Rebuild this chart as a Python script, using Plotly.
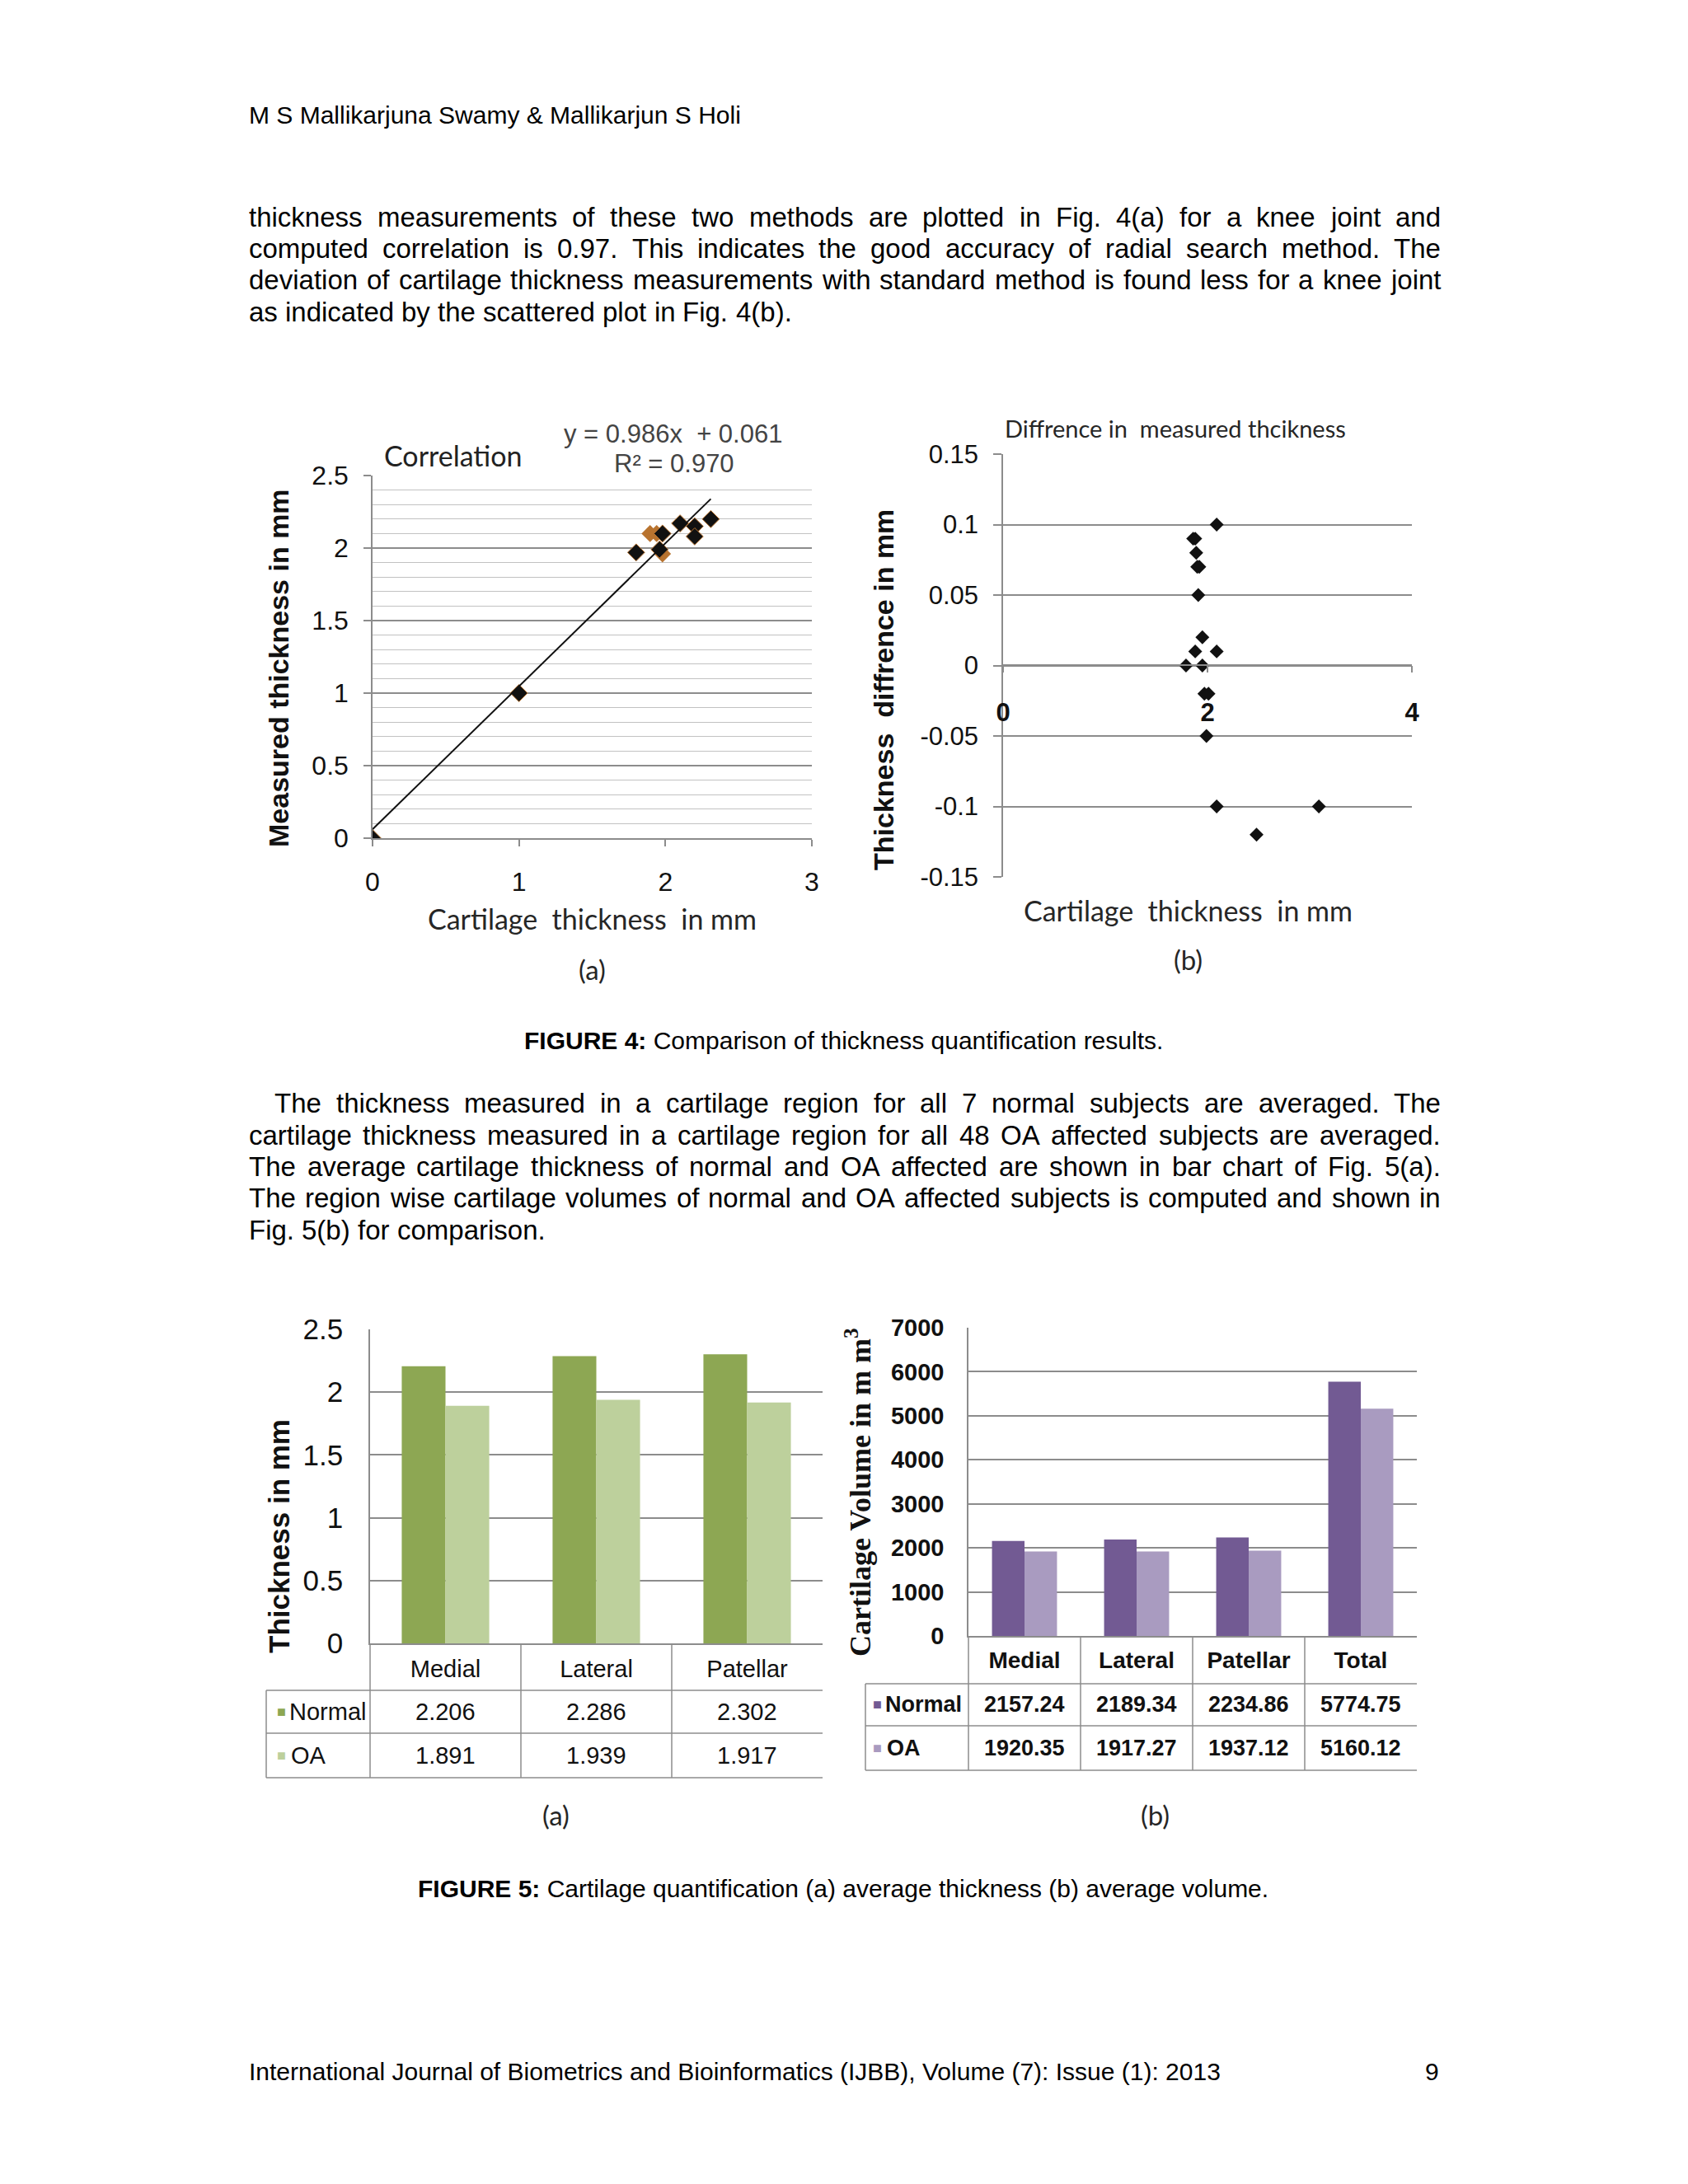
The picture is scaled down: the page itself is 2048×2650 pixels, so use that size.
import plotly.graph_objects as go

W, H = 2048, 2650

# ---------------- data ----------------
# Fig 4(a): correlation between standard and radial search thickness (mm)
corr_std_black = [0, 1.0, 1.80, 1.98, 1.96, 2.10, 2.20, 2.20, 2.31]
corr_meas_black = [0, 1.0, 1.97, 2.10, 1.99, 2.17, 2.15, 2.08, 2.20]
corr_std_orange = [1.895, 1.94, 1.98]
corr_meas_orange = [2.10, 2.10, 1.96]
fit_slope = 0.986
fit_intercept = 0.061
fit_r2 = 0.970

# Fig 4(b): difference in measured thickness
diff_x = [2.09, 1.86, 1.88, 1.89, 1.90, 1.92, 1.91, 1.95, 1.88, 2.09, 1.79, 1.95, 1.97, 2.01, 1.99, 2.09, 2.48, 3.09]
diff_y = [0.10, 0.09, 0.09, 0.08, 0.07, 0.07, 0.05, 0.02, 0.01, 0.01, 0.00, 0.00, -0.02, -0.02, -0.05, -0.10, -0.12, -0.10]
diff_yticks = [0.15, 0.1, 0.05, 0, -0.05, -0.1, -0.15]
diff_yticklabels = ["0.15", "0.1", "0.05", "0", "-0.05", "-0.1", "-0.15"]

# Fig 5(a): average thickness (mm)
regions_a = ["Medial", "Lateral", "Patellar"]
thick_normal = [2.206, 2.286, 2.302]
thick_oa = [1.891, 1.939, 1.917]

# Fig 5(b): average volume (mm^3)
regions_b = ["Medial", "Lateral", "Patellar", "Total"]
vol_normal = [2157.24, 2189.34, 2234.86, 5774.75]
vol_oa = [1920.35, 1917.27, 1937.12, 5160.12]

# ---------------- helpers ----------------
def px(x):
    return x / W

def py(y):
    return 1 - y / H

AW = {' ': 278, '!': 278, '"': 355, '#': 556, '$': 556, '%': 889, '&': 667, "'": 191,
      '(': 333, ')': 333, '*': 389, '+': 584, ',': 278, '-': 333, '.': 278, '/': 278,
      ':': 278, ';': 278, '=': 584, '?': 556}
for c in '0123456789':
    AW[c] = 556
AW.update(dict(zip('ABCDEFGHIJKLMNOPQRSTUVWXYZ',
                   [667, 667, 722, 722, 667, 611, 778, 722, 278, 500, 667, 556, 833, 722, 778,
                    667, 778, 722, 667, 611, 722, 667, 944, 667, 667, 611])))
AW.update(dict(zip('abcdefghijklmnopqrstuvwxyz',
                   [556, 556, 500, 556, 556, 278, 556, 556, 222, 222, 500, 222, 833, 556, 556,
                    556, 556, 333, 500, 278, 556, 500, 722, 500, 500, 500])))

annotations = []
shapes = []
BODY = "Liberation Sans"
NARROW = "Liberation Sans Narrow, Liberation Sans"
CAL = "Lato"


def text_line(text, y, x0, x1, size, justify):
    words = text.split(' ')
    widths = [sum(AW.get(c, 556) for c in w) * size / 1000 for w in words]
    if justify and len(words) > 1:
        gap = (x1 - x0 - sum(widths)) / (len(words) - 1)
    else:
        gap = 278 * size / 1000
    x = x0
    for w, wd in zip(words, widths):
        annotations.append(dict(text=w, x=px(x), y=py(y), xref='paper', yref='paper',
                                xanchor='left', yanchor='middle', showarrow=False,
                                borderpad=0,
                                font=dict(family=BODY, size=size, color='#000000')))
        x += wd + gap


def note(text, x, y, size, family=BODY, color='#000000', xanchor='center', angle=0,
         weight='normal', xref='paper'):
    annotations.append(dict(text=text, x=(px(x) if xref == 'paper' else x), y=py(y),
                            xref=xref, yref='paper', xanchor=xanchor, yanchor='middle',
                            showarrow=False, textangle=angle, borderpad=0,
                            font=dict(family=family, size=size, color=color, weight=weight)))


def hline(x0, x1, y, color='#8c8c8c', width=1.5, xref='paper'):
    shapes.append(dict(type='line', xref=xref, yref='paper',
                       x0=(px(x0) if xref == 'paper' else x0),
                       x1=(px(x1) if xref == 'paper' else x1),
                       y0=py(y), y1=py(y), line=dict(color=color, width=width)))


def vline(x, y0, y1, color='#8c8c8c', width=1.5, xref='paper'):
    shapes.append(dict(type='line', xref=xref, yref='paper',
                       x0=(px(x) if xref == 'paper' else x),
                       x1=(px(x) if xref == 'paper' else x),
                       y0=py(y0), y1=py(y1), line=dict(color=color, width=width)))


# ---------------- page text ----------------
LEFT, RIGHT = 301, 1747
FS = 33
note("M S Mallikarjuna Swamy &amp; Mallikarjun S Holi", LEFT, 140, 30, xanchor='left')

para1 = ["thickness measurements of these two methods are plotted in Fig. 4(a) for a knee joint and",
         "computed correlation is 0.97. This indicates the good accuracy of radial search method. The",
         "deviation of cartilage thickness measurements with standard method is found less for a knee joint",
         "as indicated by the scattered plot in Fig. 4(b)."]
for i, (line, yy) in enumerate(zip(para1, [263, 302, 340, 378])):
    text_line(line, yy, LEFT, RIGHT, FS, i < len(para1) - 1)

note("<b>FIGURE 4:</b> Comparison of thickness quantification results.", 1023, 1262, 30)

para2 = ["The thickness measured in a cartilage region for all 7 normal subjects are averaged. The",
         "cartilage thickness measured in a cartilage region for all 48 OA affected subjects are averaged.",
         "The average cartilage thickness of normal and OA affected are shown in bar chart of Fig. 5(a).",
         "The region wise cartilage volumes of normal and OA affected subjects is computed and shown in",
         "Fig. 5(b) for comparison."]
for i, (line, yy) in enumerate(zip(para2, [1338, 1377, 1415, 1453, 1492])):
    text_line(line, yy, 332 if i == 0 else LEFT, RIGHT, FS, i < len(para2) - 1)

note("<b>FIGURE 5:</b> Cartilage quantification (a) average thickness (b) average volume.", 1023, 2291, 30)
note("International Journal of Biometrics and Bioinformatics (IJBB), Volume (7): Issue (1): 2013",
     LEFT, 2513, 30, xanchor='left')
note("9", RIGHT, 2513, 30, xanchor='right')

# ---------------- figure ----------------
fig = go.Figure()
GRID = '#8c8c8c'
TICKC = '#111111'

# Fig 4(a)
fig.add_trace(go.Scatter(x=corr_std_orange, y=corr_meas_orange, mode='markers',
                         marker=dict(symbol='diamond', size=16, color='#b8732f'),
                         xaxis='x', yaxis='y', hoverinfo='skip'))
fig.add_trace(go.Scatter(x=corr_std_black, y=corr_meas_black, mode='markers',
                         marker=dict(symbol='diamond', size=16, color='#111111',
                                     line=dict(color='#b8732f', width=1)),
                         xaxis='x', yaxis='y'))
all_x = corr_std_black + corr_std_orange
fit_x = [min(all_x), max(all_x)]
fit_y = [fit_slope * v + fit_intercept for v in fit_x]
fig.add_trace(go.Scatter(x=fit_x, y=fit_y, mode='lines', line=dict(color='#111111', width=2),
                         xaxis='x', yaxis='y'))

# Fig 4(b)
fig.add_trace(go.Scatter(x=diff_x, y=diff_y, mode='markers',
                         marker=dict(symbol='diamond', size=13, color='#111111'),
                         xaxis='x2', yaxis='y2'))

# Fig 5(a)
fig.add_trace(go.Bar(x=regions_a, y=thick_normal, name='Normal', marker=dict(color='#8da753', line=dict(width=0)),
                     xaxis='x3', yaxis='y3'))
fig.add_trace(go.Bar(x=regions_a, y=thick_oa, name='OA', marker=dict(color='#bdd09c', line=dict(width=0)),
                     xaxis='x3', yaxis='y3'))

# Fig 5(b)
fig.add_trace(go.Bar(x=regions_b, y=vol_normal, name='Normal', marker=dict(color='#725a93', line=dict(width=0)),
                     xaxis='x4', yaxis='y4'))
fig.add_trace(go.Bar(x=regions_b, y=vol_oa, name='OA', marker=dict(color='#a99bc0', line=dict(width=0)),
                     xaxis='x4', yaxis='y4'))

# --- axis geometry (pixels) ---
A4 = dict(x0=452, x1=985, y0=577, y1=1017)
B4 = dict(x0=1217, x1=1713, y0=551, y1=1064)
A5 = dict(x0=449, x1=998, y0=1613, y1=1994)
B5 = dict(x0=1175, x1=1719, y0=1611, y1=1985)


def dom(g):
    return [px(g['x0']), px(g['x1'])], [py(g['y1']), py(g['y0'])]

xa, ya = dom(A4)
xb, yb = dom(B4)
xc, yc = dom(A5)
xd, yd = dom(B5)

fig.update_layout(
    width=W, height=H, margin=dict(l=0, r=0, t=0, b=0, autoexpand=False),
    paper_bgcolor='white', plot_bgcolor='rgba(0,0,0,0)',
    showlegend=False, bargap=0.42, bargroupgap=0, barmode='group',
    xaxis=dict(domain=xa, anchor='y', range=[0, 3], dtick=1, tick0=0, showgrid=False,
               zeroline=False, showline=True, linecolor=GRID, linewidth=1.5,
               ticks='outside', ticklen=8, tickcolor=GRID, tickwidth=1.5,
               tickfont=dict(family=BODY, size=32, color=TICKC), ticklabelstandoff=16),
    yaxis=dict(domain=ya, anchor='x', range=[0, 2.5], dtick=0.5, tick0=0, showgrid=True,
               gridcolor=GRID, gridwidth=1.5, zeroline=False, showline=True, linecolor=GRID,
               linewidth=1.5, ticks='outside', ticklen=9, tickcolor=GRID, tickwidth=1.5,
               minor=dict(dtick=0.1, showgrid=True, gridcolor='#c2c2c2', gridwidth=1, ticks=''),
               tickfont=dict(family=BODY, size=32, color=TICKC), ticklabelstandoff=12),
    xaxis2=dict(domain=xb, anchor='free', position=py(807), range=[0, 4], dtick=2, tick0=0,
                showgrid=False, zeroline=False, showline=True, linecolor=GRID, linewidth=1.5,
                ticks='outside', ticklen=8, tickcolor=GRID, tickwidth=1.5,
                tickfont=dict(family=BODY, size=31, color=TICKC, weight='bold'),
                ticklabelstandoff=22),
    yaxis2=dict(domain=yb, anchor='x2', range=[-0.15, 0.15], tickvals=diff_yticks,
                ticktext=diff_yticklabels, showgrid=True, gridcolor=GRID, gridwidth=1.5,
                zeroline=False, showline=True, linecolor=GRID, linewidth=1.5,
                ticks='outside', ticklen=10, tickcolor=GRID, tickwidth=1.5,
                tickfont=dict(family=BODY, size=31, color=TICKC), ticklabelstandoff=12),
    xaxis3=dict(domain=xc, anchor='y3', type='category', showgrid=False, zeroline=False,
                showline=True, linecolor=GRID, linewidth=1.5, ticks='',
                tickfont=dict(family=NARROW, size=29, color=TICKC), ticklabelstandoff=4),
    yaxis3=dict(domain=yc, anchor='x3', range=[0, 2.5], dtick=0.5, tick0=0, showgrid=True,
                gridcolor=GRID, gridwidth=1.5, zeroline=False, showline=True, linecolor=GRID,
                linewidth=1.5, ticks='',
                tickfont=dict(family=NARROW, size=35, color=TICKC), ticklabelstandoff=24),
    xaxis4=dict(domain=xd, anchor='y4', type='category', showgrid=False, zeroline=False,
                showline=True, linecolor=GRID, linewidth=1.5, ticks='',
                tickfont=dict(family=NARROW, size=28, color=TICKC, weight='bold'),
                ticklabelstandoff=4),
    yaxis4=dict(domain=yd, anchor='x4', range=[0, 7000], dtick=1000, tick0=0, showgrid=True,
                gridcolor=GRID, gridwidth=1.5, zeroline=False, showline=True, linecolor=GRID,
                linewidth=1.5, ticks='',
                tickfont=dict(family=NARROW, size=29, color=TICKC, weight='bold'),
                ticklabelstandoff=22),
)

# --- Fig 4 texts ---
note("Correlation", 465, 553, 34, family=CAL, color='#222222', xanchor='left')
note(f"y = {fit_slope:.3f}x  + {fit_intercept:.3f}", 816, 526, 31, family=BODY, color='#444444')
note(f"R² = {fit_r2:.3f}", 818, 562, 31, family=BODY, color='#444444')
note("Measured thickness in mm", 338, 811, 34, family=BODY, color='#111111', angle=-90, weight='bold')
note("Cartilage  thickness  in mm", 718, 1114, 34, family=CAL, color='#262626')
note("(a)", 718, 1176, 33, family=CAL, color='#262626')

note("Diffrence in  measured thcikness", 1426, 520, 29, family=CAL, color='#262626')
note("Thickness  diffrence in mm", 1072, 837, 34, family=BODY, color='#111111', angle=-90, weight='bold')
note("Cartilage  thickness  in mm", 1441, 1104, 34, family=CAL, color='#262626')
note("(b)", 1441, 1164, 33, family=CAL, color='#262626')

# --- Fig 5(a) data table ---
T5A_L, ROWS_A = 323, [2051, 2103, 2157]
for yy in ROWS_A:
    hline(T5A_L, A5['x1'], yy)
vline(A5['x0'], A5['y1'], ROWS_A[-1])
vline(T5A_L, ROWS_A[0], ROWS_A[-1])
for k in range(1, len(regions_a)):
    vline(k - 0.5, A5['y1'], ROWS_A[-1], xref='x3')
note("Thickness in mm", 338, 1864, 35, family=BODY, color='#111111', angle=-90, weight='bold')
yrow_n, yrow_o = 2077, 2130
note("■", 341, yrow_n, 18, family=BODY, color='#8da753')
note("Normal", 350, yrow_n, 29, family=NARROW, color=TICKC, xanchor='left')
note("■", 341, yrow_o, 18, family=BODY, color='#bdd09c')
note("OA", 352, yrow_o, 29, family=NARROW, color=TICKC, xanchor='left')
for r, vn, vo in zip(regions_a, thick_normal, thick_oa):
    note(f"{vn:.3f}", r, yrow_n, 29, family=NARROW, color=TICKC, xref='x3')
    note(f"{vo:.3f}", r, yrow_o, 29, family=NARROW, color=TICKC, xref='x3')
note("(a)", 674, 2202, 33, family=CAL, color='#262626')

# --- Fig 5(b) data table ---
T5B_L, ROWS_B = 1050, [2043, 2094, 2148]
for yy in ROWS_B:
    hline(T5B_L, B5['x1'], yy)
vline(B5['x0'], B5['y1'], ROWS_B[-1])
vline(T5B_L, ROWS_B[0], ROWS_B[-1])
for k in range(1, len(regions_b)):
    vline(k - 0.5, B5['y1'], ROWS_B[-1], xref='x4')
note("Cartilage Volume in m m<sup>3</sup>", 1041, 1811, 36, family="Liberation Serif",
     color='#111111', angle=-90, weight='bold')
yrow_n, yrow_o = 2068, 2121
note("■", 1064, yrow_n, 18, family=BODY, color='#725a93')
note("Normal", 1073, yrow_n, 27, family=NARROW, color=TICKC, xanchor='left', weight='bold')
note("■", 1064, yrow_o, 18, family=BODY, color='#a99bc0')
note("OA", 1075, yrow_o, 27, family=NARROW, color=TICKC, xanchor='left', weight='bold')
for r, vn, vo in zip(regions_b, vol_normal, vol_oa):
    note(f"{vn:.2f}", r, yrow_n, 27, family=NARROW, color=TICKC, xref='x4', weight='bold')
    note(f"{vo:.2f}", r, yrow_o, 27, family=NARROW, color=TICKC, xref='x4', weight='bold')
note("(b)", 1401, 2202, 33, family=CAL, color='#262626')

fig.update_layout(annotations=annotations, shapes=shapes)
fig.write_html(
    "out.html",
    config={'displayModeBar': False},
    post_script=("document.documentElement.style.margin='0';"
                 "document.documentElement.style.padding='0';"
                 "document.documentElement.style.overflow='hidden';"
                 "document.body.style.margin='0';document.body.style.padding='0';"
                 "document.body.style.overflow='hidden';"),
)
